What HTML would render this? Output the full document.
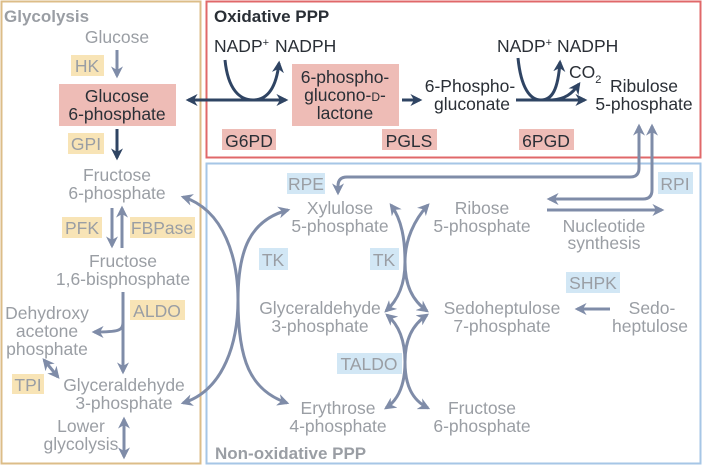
<!DOCTYPE html>
<html><head><meta charset="utf-8"><style>
html,body{margin:0;padding:0;background:#fff}
svg{display:block}
text{font-family:"Liberation Sans",sans-serif;font-size:17.5px}
.g{fill:#9a9ea4}.d{fill:#2a2f36}
</style></head><body>
<svg width="703" height="466" viewBox="0 0 703 466" xmlns="http://www.w3.org/2000/svg">
<defs>
<marker id="ag" viewBox="0 0 10 10" refX="8" refY="5" markerWidth="4" markerHeight="4" orient="auto-start-reverse"><path d="M0,0 L10,5 L0,10 L3,5z" fill="#7f8ca8"/></marker>
<marker id="ad" viewBox="0 0 10 10" refX="8" refY="5" markerWidth="4" markerHeight="4" orient="auto-start-reverse"><path d="M0,0 L10,5 L0,10 L3,5z" fill="#2f4463"/></marker>
</defs>
<rect x="1.5" y="1.5" width="199" height="462" fill="none" stroke="#dcbd88" stroke-width="2"/>
<rect x="206.5" y="1.5" width="494" height="156" fill="none" stroke="#e0686a" stroke-width="2"/>
<rect x="206.5" y="163.5" width="494" height="300" fill="none" stroke="#a6c6e6" stroke-width="2"/>

<g fill="#f8e4b6">
<rect x="71" y="55" width="33" height="21"/><rect x="68" y="133" width="36" height="21"/>
<rect x="62" y="217" width="40" height="21"/><rect x="130" y="217" width="65" height="21"/>
<rect x="130" y="300" width="55" height="20"/><rect x="12" y="374" width="32" height="20"/>
</g>
<g fill="#eebcb6">
<rect x="59" y="84" width="117" height="42"/><rect x="292" y="64" width="107" height="62"/>
<rect x="222" y="129" width="54" height="21"/><rect x="382" y="129" width="55" height="21"/><rect x="519" y="129" width="55" height="21"/>
</g>
<g fill="#d2e7f5">
<rect x="287" y="173" width="38" height="21"/><rect x="658" y="172" width="35" height="22"/>
<rect x="259" y="248" width="29" height="22"/><rect x="370" y="248" width="29" height="22"/>
<rect x="566" y="272" width="54" height="21"/><rect x="337" y="353" width="65" height="21"/>
</g>

<text x="4" y="22" class="g" style="font-weight:bold;font-size:17px">Glycolysis</text>
<g class="g" text-anchor="middle">
<text x="117" y="43">Glucose</text>
<text x="87" y="72">HK</text>
<text x="86" y="150">GPI</text>
<text x="117" y="181">Fructose</text><text x="117" y="199">6-phosphate</text>
<text x="82" y="234">PFK</text><text x="162" y="234">FBPase</text>
<text x="123" y="267">Fructose</text><text x="123" y="285">1,6-bisphosphate</text>
<text x="157" y="317">ALDO</text>
<text x="47" y="319">Dehydroxy</text><text x="47" y="337">acetone</text><text x="47" y="355">phosphate</text>
<text x="28" y="391">TPI</text>
<text x="124" y="391">Glyceraldehyde</text><text x="124" y="409">3-phosphate</text>
<text x="81" y="432">Lower</text><text x="81" y="450">glycolysis</text>
</g>
<g class="d" text-anchor="middle">
<text x="117" y="102">Glucose</text><text x="117" y="120">6-phosphate</text>
<text x="249" y="147">G6PD</text><text x="409" y="147">PGLS</text><text x="546" y="147">6PGD</text>
<text x="345" y="83">6-phospho-</text><text x="345" y="101">glucono-<tspan font-size="12">D</tspan>-</text><text x="345" y="119">lactone</text>
<text x="470" y="92">6-Phospho-</text><text x="472" y="110">gluconate</text>
<text x="644" y="92">Ribulose</text><text x="644" y="110">5-phosphate</text>
</g>
<g class="d">
<text x="214" y="22" style="font-weight:bold;font-size:17px">Oxidative PPP</text>
<text x="214" y="52">NADP<tspan font-size="11" dy="-6">+</tspan></text>
<text x="275" y="52">NADPH</text>
<text x="497" y="52">NADP<tspan font-size="11" dy="-6">+</tspan></text>
<text x="557" y="52">NADPH</text>
<text x="569" y="78">CO<tspan font-size="11" dy="5">2</tspan></text>
</g>
<g class="g" text-anchor="middle">
<text x="306" y="190">RPE</text><text x="675" y="190">RPI</text>
<text x="273" y="266">TK</text><text x="384" y="266">TK</text>
<text x="593" y="289">SHPK</text><text x="369" y="370">TALDO</text>
<text x="340" y="214">Xylulose</text><text x="340" y="232">5-phosphate</text>
<text x="482" y="214">Ribose</text><text x="482" y="232">5-phosphate</text>
<text x="604" y="232">Nucleotide</text><text x="604" y="249">synthesis</text>
<text x="320" y="314">Glyceraldehyde</text><text x="320" y="332">3-phosphate</text>
<text x="502" y="314">Sedoheptulose</text><text x="502" y="332">7-phosphate</text>
<text x="652" y="314">Sedo-</text><text x="650" y="332">heptulose</text>
<text x="338" y="414">Erythrose</text><text x="338" y="432">4-phosphate</text>
<text x="482" y="414">Fructose</text><text x="482" y="432">6-phosphate</text>
</g>
<text x="215" y="459" class="g" style="font-weight:bold;font-size:17px">Non-oxidative PPP</text>

<g fill="none" stroke="#2f4463" stroke-width="3">
<path d="M117,129 V158" marker-end="url(#ad)"/>
<path d="M188,100 H286" marker-start="url(#ad)" marker-end="url(#ad)"/>
<path d="M225,60 C228,90 240,100 253,100 C266,100 276,90 279,63" marker-end="url(#ad)"/>
<path d="M402,100 H420" marker-end="url(#ad)"/>
<path d="M516,100 H585" marker-end="url(#ad)"/>
<path d="M518,58 C521,88 530,100 541,100 C552,100 558,90 560,62" marker-end="url(#ad)"/>
<path d="M552,100 C565,99 572,94 579,84" marker-end="url(#ad)"/>
</g>
<g fill="none" stroke="#7f8ca8" stroke-width="3">
<path d="M117,50 V76" marker-end="url(#ag)"/>
<path d="M112,208 V246" marker-end="url(#ag)"/>
<path d="M122,248 V208" marker-end="url(#ag)"/>
<path d="M123,292 V372" marker-end="url(#ag)"/>
<path d="M123,322 C123,331 118,332 94,332" marker-end="url(#ag)"/>
<path d="M44,360 L58,377" marker-start="url(#ag)" marker-end="url(#ag)"/>
<path d="M124,419 V457" marker-start="url(#ag)" marker-end="url(#ag)"/>
<path d="M183,197 C225,210 238,260 238,300 C238,360 250,390 287,403" marker-start="url(#ag)" marker-end="url(#ag)"/>
<path d="M183,403 C225,390 238,340 238,300 C238,250 250,220 288,210" marker-start="url(#ag)" marker-end="url(#ag)"/>
<path d="M639,126 V168 Q639,177 630,177 H347 Q338,177 338,186 V193" marker-start="url(#ag)" marker-end="url(#ag)"/>
<path d="M652,126 V190 Q652,199 643,199 H549" marker-start="url(#ag)" marker-end="url(#ag)"/>
<path d="M547,210 H662" marker-end="url(#ag)"/>
<path d="M610,309 H577" marker-end="url(#ag)"/>
<path d="M391,205 C402,220 405,240 405,262 C405,285 412,300 427,311" marker-start="url(#ag)" marker-end="url(#ag)"/>
<path d="M428,205 C414,220 405,240 405,262 C405,285 398,300 386,311" marker-start="url(#ag)" marker-end="url(#ag)"/>
<path d="M387,315 C399,325 405,340 405,362 C405,385 412,400 428,408" marker-start="url(#ag)" marker-end="url(#ag)"/>
<path d="M427,315 C412,325 405,340 405,362 C405,385 398,400 386,408" marker-start="url(#ag)" marker-end="url(#ag)"/>
</g>
</svg>
</body></html>
